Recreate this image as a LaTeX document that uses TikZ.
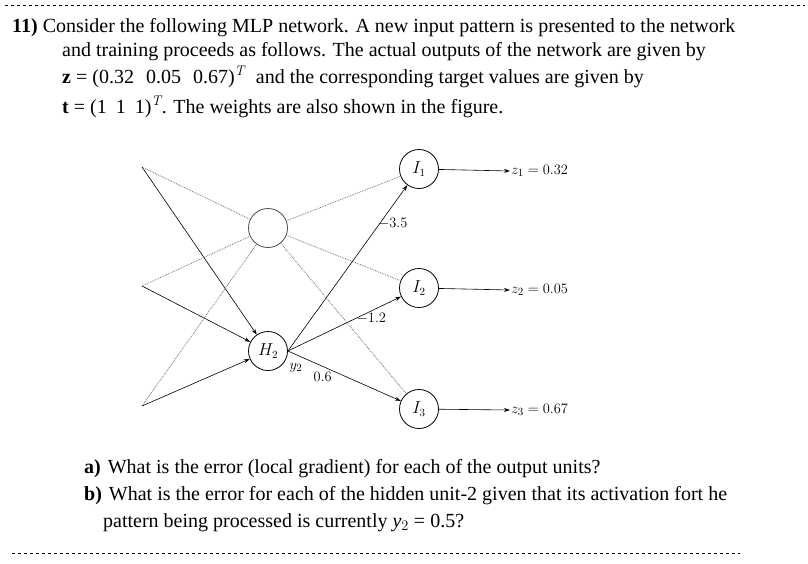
\documentclass[tikz,border=0pt]{standalone}
\usepackage{fontspec}
\newfontfamily\tnr{Liberation Serif}
\usetikzlibrary{arrows.meta}
\begin{document}
\begin{tikzpicture}[x=1pt,y=-1pt,
  neuron/.style={circle,draw,thick,minimum size=39pt,inner sep=0pt,font=\fontsize{16}{16}\selectfont},
  txt/.style={anchor=base west,inner sep=0pt,font=\tnr\fontsize{20}{22}\selectfont},
  wl/.style={font=\fontsize{15.5}{15.5}\selectfont,inner sep=1pt},
  arr/.style={-{Stealth[length=6pt,width=4pt]},semithick},
  dot/.style={densely dotted,gray!80!violet,thick}]
\useasboundingbox (0,0) rectangle (808,563);
\draw[dashed,thin] (5,5) -- (805,5);
\draw[dashed,thin] (12,553) -- (740,553);
\node[txt] (l1) at (12,32) {\textbf{11)} Consider the following MLP network. A new input pattern is presented to the network};
\node[txt] (l2) at (62,56) {and training proceeds as follows. The actual outputs of the network are given by};
\node[txt] (l3) at (62,83) {\textbf{z} = (0.32\hspace{12pt}0.05\hspace{12pt}0.67)$^{\mathit{T}}$\hspace{6pt} and the corresponding target values are given by};
\node[txt] (l4) at (62,113) {\textbf{t} = (1\hspace{9pt}1\hspace{9pt}1)$^{\mathit{T}}$. The weights are also shown in the figure.};
\node[txt] (qa) at (84,473) {\textbf{a)}\hspace{7pt}What is the error (local gradient) for each of the output units?};
\node[txt] (qb) at (84,500) {\textbf{b)}\hspace{7pt}What is the error for each of the hidden unit-2 given that its activation fort he};
\node[txt] (qc) at (103,527) {pattern being processed is currently \textit{y}$_2$ = 0.5?};
% network
\coordinate (x1) at (142,167);
\coordinate (x2) at (142,286);
\coordinate (x3) at (142,406);
\node[neuron,draw=black!70] (h1) at (268,228) {};
\node[neuron] (h2) at (268,351) {$H_2$};
\node[neuron] (o1) at (419,169) {$I_1$};
\node[neuron] (o2) at (419,288) {$I_2$};
\node[neuron] (o3) at (419,409) {$I_3$};
\foreach \x in {x1,x2,x3} {\draw[dot] (\x) -- (h1); \draw[arr] (\x) -- (h2);}
\foreach \o in {o1,o2,o3} {\draw[dot] (h1) -- (\o);}
\draw[arr] (h2.east) -- (o1) node[wl,pos=0.77,right,xshift=-3pt] {$-3.5$};
\draw[arr] (h2.east) -- (o2) node[wl,pos=0.72,below,xshift=2pt] {$-1.2$};
\draw[arr] (h2.east) -- (o3) node[wl,pos=0.4,below left] {$0.6$};
\node[wl] (y2) at (296,368) {$y_2$};
\coordinate (e1) at (510,171); \coordinate (e2) at (510,290); \coordinate (e3) at (510,410);
\draw[arr] (o1) -- (e1) node[wl,right] {$z_1=0.32$};
\draw[arr] (o2) -- (e2) node[wl,right] {$z_2=0.05$};
\draw[arr] (o3) -- (e3) node[wl,right] {$z_3=0.67$};
\end{tikzpicture}
\end{document}
